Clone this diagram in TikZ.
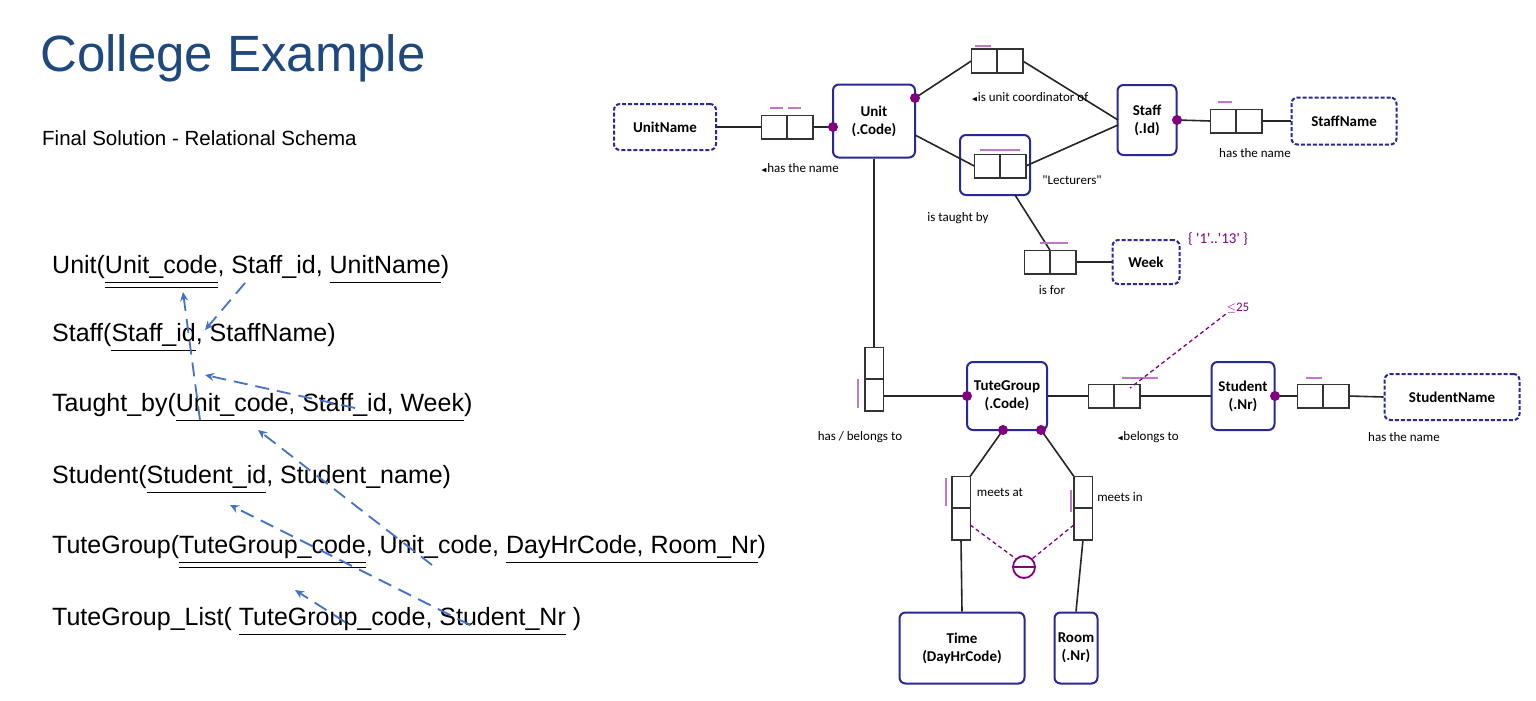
\documentclass[tikz,border=0pt]{standalone}
\usepackage{amssymb}
\usepackage{fontspec}
\setmainfont{Liberation Sans}
\newfontfamily\orm{Carlito}
\usetikzlibrary{arrows.meta}
\newcommand{\myul}[1]{\underline{#1\vphantom{(}}}
\newcommand{\myuul}[1]{\underline{\underline{#1\vphantom{(}}}}
\newcommand{\tril}{\scalebox{0.6}{$\blacktriangleleft$}}
\definecolor{titleblue}{RGB}{31,73,125}
\definecolor{arrblue}{RGB}{68,114,196}
\definecolor{navy}{RGB}{40,40,150}
\definecolor{purp}{RGB}{128,0,128}
\definecolor{lpurp}{RGB}{190,120,200}
\tikzset{
  schema/.style={anchor=west,inner sep=0pt,font=\fontsize{25}{30}\selectfont},
  fk/.style={arrblue,line width=1.8pt,dash pattern=on 14pt off 8pt,-{Stealth[length=9pt,width=8pt]}},
  ent/.style={draw=navy,line width=2pt,rounded corners=6pt,align=center,font=\orm\bfseries\fontsize{15}{18}\selectfont,inner sep=2pt},
  val/.style={ent,dash pattern=on 4pt off 2pt},
  role/.style={draw=black!80,fill=white,line width=1.5pt,minimum width=50pt,minimum height=22pt,inner sep=0pt},
  vrole/.style={draw=black!80,fill=white,line width=1.5pt,minimum width=17pt,minimum height=62pt,inner sep=0pt},
  lab/.style={font=\orm\fontsize{13}{15}\selectfont,inner sep=1pt},
  conn/.style={line width=1.6pt,black!85},
  dot/.style={circle,fill=purp,inner sep=0pt,minimum size=10pt},
  uc/.style={lpurp,line width=2.5pt},
}
\begin{document}
\begin{tikzpicture}[x=1pt,y=-1pt]
\useasboundingbox[fill=white] (0,0) rectangle (1536,701);
% left side
\node[anchor=west,inner sep=0pt,text=titleblue,font=\fontsize{51}{60}\selectfont] (title) at (40,58) {College Example};
\node[anchor=west,inner sep=0pt,font=\fontsize{20.5}{24}\selectfont] (sub) at (42,138) {Final Solution - Relational Schema};
\node[schema] (s1) at (52,272) {Unit(\myuul{Unit\_code}, Staff\_id, \myul{UnitName})};
\node[schema] (s2) at (52,338) {Staff(\myul{Staff\_id}, StaffName)};
\node[schema] (s3) at (52,408) {Taught\_by(\myul{Unit\_code, Staff\_id, Week})};
\node[schema] (s4) at (52,480) {Student(\myul{Student\_id}, Student\_name)};
\node[schema] (s5) at (52,552) {TuteGroup(\myuul{TuteGroup\_code}, Unit\_code, \myul{DayHrCode, Room\_Nr})};
\node[schema] (s6) at (52,622) {TuteGroup\_List( \myul{TuteGroup\_code, Student\_Nr} )};
\coordinate (a1s) at (200,420); \coordinate (a1e) at (183,292);
\coordinate (a2s) at (245,283); \coordinate (a2e) at (205,330);
\coordinate (a3s) at (355,408); \coordinate (a3e) at (205,375);
\coordinate (a4s) at (432,565); \coordinate (a4e) at (258,430);
\coordinate (a5s) at (470,625); \coordinate (a5e) at (230,505);
\coordinate (a6s) at (345,622); \coordinate (a6e) at (295,590);
\foreach \i in {1,...,6}{\draw[fk] (a\i s) -- (a\i e);}
% ORM diagram
\node[val,minimum width=102pt,minimum height=46pt] (unitname) at (665,127) {UnitName};
\node[ent,minimum width=82pt,minimum height=73pt] (unit) at (874,121) {Unit\\(.Code)};
\node[ent,minimum width=59pt,minimum height=70pt] (staff) at (1147,120) {Staff\\(.Id)};
\node[val,minimum width=105pt,minimum height=47pt] (staffname) at (1344,121) {StaffName};
\node[ent,minimum width=70pt,minimum height=60pt] (lect) at (995,165) {};
\node[val,minimum width=67pt,minimum height=44pt] (week) at (1146,262) {Week};
\node[ent,minimum width=80pt,minimum height=68pt] (tg) at (1007,396) {TuteGroup\\(.Code)};
\node[ent,minimum width=63pt,minimum height=68pt] (student) at (1243,396) {Student\\(.Nr)};
\node[val,minimum width=135pt,minimum height=46pt] (studentname) at (1452,397) {StudentName};
\node[ent,minimum width=125pt,minimum height=71pt] (time) at (962,648) {Time\\(DayHrCode)};
\node[ent,minimum width=43pt,minimum height=71pt] (room) at (1076,648) {Room\\(.Nr)};
\coordinate (unitTR) at (915,98); \coordinate (unitBR) at (915,135);
\coordinate (unitL) at (833,127); \coordinate (staffR) at (1177,120);
\coordinate (tgL) at (967,396); \coordinate (tgB1) at (1003,430); \coordinate (tgB2) at (1041,430);
\coordinate (studR) at (1275,396);
\node[role] (r1) at (787,127) {};
\node[role] (r2) at (997,61) {};
\node[role] (r3) at (1000,166) {};
\node[role] (r4) at (1050,262) {};
\node[role] (r5) at (1236,121) {};
\node[role] (r6) at (1114,396) {};
\node[role] (r7) at (1323,396) {};
\node[vrole] (v1) at (874,379) {};
\node[vrole] (v2) at (961,508) {};
\node[vrole] (v3) at (1083,508) {};
\draw[conn] (unitname.east) -- (r1.west);
\draw[conn] (r1.east) -- (unitL);
\draw[conn] (unitTR) -- (r2.west);
\draw[conn] (r2.east) -- (1118,120);
\draw[conn] (unitBR) -- (r3.west);
\draw[conn] (r3.east) -- (1118,125);
\draw[conn] (1015,195) -- (r4.north);
\draw[conn] (r4.east) -- (week.west);
\draw[conn] (staffR) -- (r5.west);
\draw[conn] (r5.east) -- (staffname.west);
\draw[conn] (unit.south) -- (v1.north);
\draw[conn] (v1.east |- tgL) -- (tgL);
\draw[conn] (tg.east) -- (r6.west);
\draw[conn] (r6.east) -- (student.west);
\draw[conn] (studR) -- (r7.west);
\draw[conn] (r7.east) -- (studentname.west);
\draw[conn] (tgB1) -- (v2.north east);
\draw[conn] (tgB2) -- (v3.north west);
\draw[conn] (v2.south) -- (time.north);
\draw[conn] (v3.south) -- (room.north);
\foreach \r in {r1,r2,r3,r4,r5,r6,r7}{\draw[draw=black!80,fill=white,line width=1.5pt] (\r.north west) rectangle (\r.south east); \draw[line width=1.5pt,black!80] (\r.north) -- (\r.south);}
\foreach \r in {v1,v2,v3}{\draw[draw=black!80,fill=white,line width=1.5pt] (\r.north west) rectangle (\r.south east); \draw[line width=1.5pt,black!80] (\r.west) -- (\r.east);}
% uniqueness bars
\draw[uc] (770,108) -- (783,108); \draw[uc] (788,108) -- (801,108);
\draw[uc] (975,46) -- (991,46);
\draw[uc] (980,150) -- (1020,150);
\draw[uc] (1040,243) -- (1068,243);
\draw[uc] (1218,102) -- (1232,102);
\draw[uc] (1122,378) -- (1158,378);
\draw[uc] (1306,378) -- (1322,378);
\draw[uc,line width=2pt] (858,379) -- (858,408);
\draw[uc,line width=2pt] (946,478) -- (946,506);
\draw[uc,line width=2pt] (1071,490) -- (1071,512);
\foreach \c in {unitTR,unitL,staffR,tgL,tgB1,tgB2,studR}{\node[dot] at (\c) {};}
% exclusion constraint
\node[circle,draw=purp,line width=1.8pt,minimum size=22pt,inner sep=0pt] (ex) at (1024,567) {};
\draw[purp,line width=1.8pt] (ex.west) -- (ex.east);
\draw[purp,line width=1.3pt,dash pattern=on 4pt off 3pt] (v2.east |- 0,525) -- (ex.north west);
\draw[purp,line width=1.3pt,dash pattern=on 4pt off 3pt] (v3.west |- 0,525) -- (ex.north east);
% frequency constraint
\node[lab,text=purp] (le) at (1238,308) {$\leq$25};
\draw[purp,line width=1.3pt,dash pattern=on 4pt off 3pt] (le.south west) -- (1130,388);
\node[lab,text=purp,font=\orm\fontsize{15}{17}\selectfont] (wk) at (1218,239) {\{ '1'..'13' \}};
% labels
\node[lab] (l1) at (800,168) {\tril has the name};
\node[lab] (l2) at (1030,97) {\tril is unit coordinator of};
\node[lab] (l3) at (1255,153) {has the name};
\node[lab] (l4) at (1072,180) {"Lecturers"};
\node[lab] (l5) at (958,218) {is taught by};
\node[lab] (l6) at (1052,290) {is for};
\node[lab] (l7) at (860,437) {has / belongs to};
\node[lab] (l8) at (1148,437) {\tril belongs to};
\node[lab] (l9) at (1404,437) {has the name};
\node[lab] (l10) at (1000,492) {meets at};
\node[lab] (l11) at (1120,497) {meets in};
\end{tikzpicture}
\end{document}
